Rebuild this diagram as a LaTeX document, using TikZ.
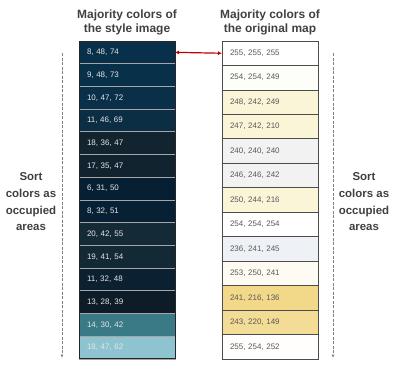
\documentclass[tikz,border=0pt]{standalone}
\usepackage{fontspec}
\setmainfont{Liberation Sans}
\usetikzlibrary{positioning,arrows.meta}

% colours of the style image
\definecolor{sL1}{RGB}{8,48,74}
\definecolor{sL2}{RGB}{9,48,73}
\definecolor{sL3}{RGB}{10,47,72}
\definecolor{sL4}{RGB}{11,46,69}
\definecolor{sL5}{RGB}{18,36,47}
\definecolor{sL6}{RGB}{17,35,47}
\definecolor{sL7}{RGB}{6,31,50}
\definecolor{sL8}{RGB}{8,32,51}
\definecolor{sL9}{RGB}{20,42,55}
\definecolor{sL10}{RGB}{19,41,54}
\definecolor{sL11}{RGB}{11,32,48}
\definecolor{sL12}{RGB}{13,28,39}
\definecolor{sL13}{RGB}{58,122,134}
\definecolor{sL14}{RGB}{142,196,208}
% colours of the original map
\definecolor{oR1}{RGB}{255,255,255}
\definecolor{oR2}{RGB}{254,254,249}
\definecolor{oR3}{RGB}{251,245,215}
\definecolor{oR4}{RGB}{251,245,215}
\definecolor{oR5}{RGB}{242,242,242}
\definecolor{oR6}{RGB}{242,242,242}
\definecolor{oR7}{RGB}{251,245,215}
\definecolor{oR8}{RGB}{255,255,255}
\definecolor{oR9}{RGB}{238,242,247}
\definecolor{oR10}{RGB}{254,251,242}
\definecolor{oR11}{RGB}{242,217,138}
\definecolor{oR12}{RGB}{243,220,149}
\definecolor{oR13}{RGB}{255,254,252}
\definecolor{linkred}{RGB}{192,0,0}

\begin{document}
\begin{tikzpicture}[x=1bp,y=-1bp,
    cell/.style={minimum width=96bp,inner sep=0pt,outer sep=0pt,text width=80bp,align=left,
      font=\fontsize{8}{9}\selectfont,line width=0.8bp},
    stylecell/.style={cell,minimum height=22.71bp,draw=black!35,text=white!90!black},
    mapcell/.style={cell,minimum height=24.46bp,draw=black!70,text=black!65},
    heading/.style={font=\bfseries\fontsize{12}{13.5}\selectfont,text=black!75,align=center,inner sep=0pt},
    sortnote/.style={font=\bfseries\fontsize{11.5}{16.7}\selectfont,text=black!75,align=center,inner sep=0pt},
    flow/.style={dashed,dash pattern=on 3bp off 1.5bp,black!50,line width=0.8bp,-{Latex[length=3.5bp,width=3bp]}},
    link/.style={linkred,line width=1.2bp,{Latex[length=4bp,width=4bp]}-{Latex[length=4bp,width=4bp]}}]
\useasboundingbox (0,0) rectangle (396,365);

% left column
\node[stylecell,fill=sL1,anchor=north west] (sL1) at (79,41) {8, 48, 74};
\foreach \n/\t [remember=\n as \p (initially 1)] in {2/{9, 48, 73},3/{10, 47, 72},4/{11, 46, 69},
    5/{18, 36, 47},6/{17, 35, 47},7/{6, 31, 50},8/{8, 32, 51},9/{20, 42, 55},10/{19, 41, 54},
    11/{11, 32, 48},12/{13, 28, 39},13/{14, 30, 42},14/{18, 47, 62}}
  \node[stylecell,fill=sL\n,below=0pt of sL\p] (sL\n) {\t};
\draw[black!85,line width=0.9bp] (sL1.north west) rectangle (sL14.south east);

% right column
\node[mapcell,fill=oR1,anchor=north west] (oR1) at (222,41) {255, 255, 255};
\foreach \n/\t [remember=\n as \p (initially 1)] in {2/{254, 254, 249},3/{248, 242, 249},
    4/{247, 242, 210},5/{240, 240, 240},6/{246, 246, 242},7/{250, 244, 216},8/{254, 254, 254},
    9/{236, 241, 245},10/{253, 250, 241},11/{241, 216, 136},12/{243, 220, 149},13/{255, 254, 252}}
  \node[mapcell,fill=oR\n,below=0pt of oR\p] (oR\n) {\t};

% titles
\node[heading,above=6bp of sL1] (styletitle) {Majority colors of\\the style image};
\node[heading,above=6bp of oR1] (maptitle) {Majority colors of\\the original map};

% sorting arrows
\coordinate (lefttop) at (62,53);
\coordinate (leftbot) at (62,358);
\coordinate (righttop) at (333,53);
\coordinate (rightbot) at (333,358);
\draw[flow] (lefttop) -- (leftbot);
\draw[flow] (righttop) -- (rightbot);
\node[sortnote] (leftnote) at (31,202) {Sort\\colors as\\occupied\\areas};
\node[sortnote] (rightnote) at (364,202) {Sort\\colors as\\occupied\\areas};

\draw[link] (sL1.east) -- (oR1.west);
\end{tikzpicture}
\end{document}
